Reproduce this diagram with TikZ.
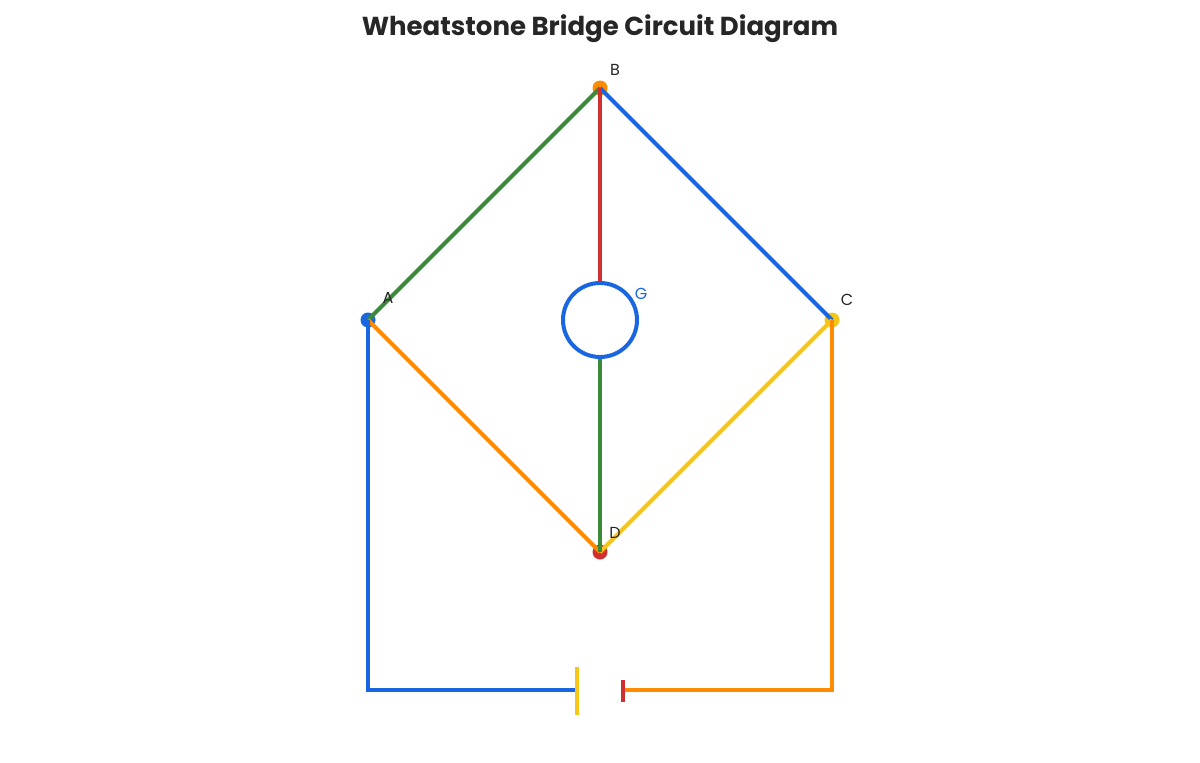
\documentclass[tikz,border=0pt]{standalone}
\usepackage{fontspec}
\setmainfont{Poppins}
\usetikzlibrary{positioning}
\definecolor{cgreen}{HTML}{3B8A3A}
\definecolor{cblue}{HTML}{1A66E0}
\definecolor{cred}{HTML}{D03030}
\definecolor{corange}{HTML}{FF8C00}
\definecolor{cyellow}{HTML}{F5C518}
\begin{document}
\begin{tikzpicture}[
    x=1pt, y=-1pt,
    % Styles
    wire/.style={% circuit wires
        line width=4pt,
        },
    dot/.style={% bridge junctions
        circle,
        inner sep=0pt,
        minimum size=15pt,
        },
    mylabel/.style={% junction names
        font=\fontsize{16}{16}\selectfont,
        text=black!85,
        },
    ]
    \useasboundingbox (0,0) rectangle (1200,763);

    % Title
    \node[font=\fontsize{26}{26}\selectfont\bfseries, text=black!85] (title) at (600,29) {Wheatstone Bridge Circuit Diagram};

    % Junctions
    \node[dot, fill=cblue] (A) at (368,320) {};
    \node[dot, fill=corange] (B) at (600,88) {};
    \node[dot, fill=cyellow] (C) at (832,320) {};
    \node[dot, fill=cred] (D) at (600,552) {};

    % Galvanometer
    \node[circle, draw=cblue, line width=4pt, minimum size=74pt, inner sep=0pt] (G) at (600,320) {};
    \node[mylabel, text=cblue] (lG) at (641,294) {G};

    % Battery
    \coordinate (bl) at (368,690);
    \coordinate (br) at (832,690);
    \coordinate (p1) at (577,690);
    \coordinate (p2) at (623,690);

    % Bridge arms
    \draw [wire, cgreen] (A.center) -- (B.center);
    \draw [wire, cblue] (B.center) -- (C.center);
    \draw [wire, corange] (A.center) -- (D.center);
    \draw [wire, cyellow] (C.center) -- (D.center);
    \draw [wire, cred] (B.center) -- (G.north);
    \draw [wire, cgreen] (G.south) -- (D.center);

    % Supply
    \draw [wire, cblue] (A.center) -- (bl) -- (p1);
    \draw [wire, corange] (p2) -- (br) -- (C.center);
    \draw [wire, cyellow] (577,667) -- (577,715);
    \draw [wire, cred] (623,680) -- (623,702);

    % Labels
    \node[mylabel] (lA) at (388,298) {A};
    \node[mylabel] (lB) at (615,70) {B};
    \node[mylabel] (lC) at (847,300) {C};
    \node[mylabel] (lD) at (615,533) {D};
\end{tikzpicture}
\end{document}
